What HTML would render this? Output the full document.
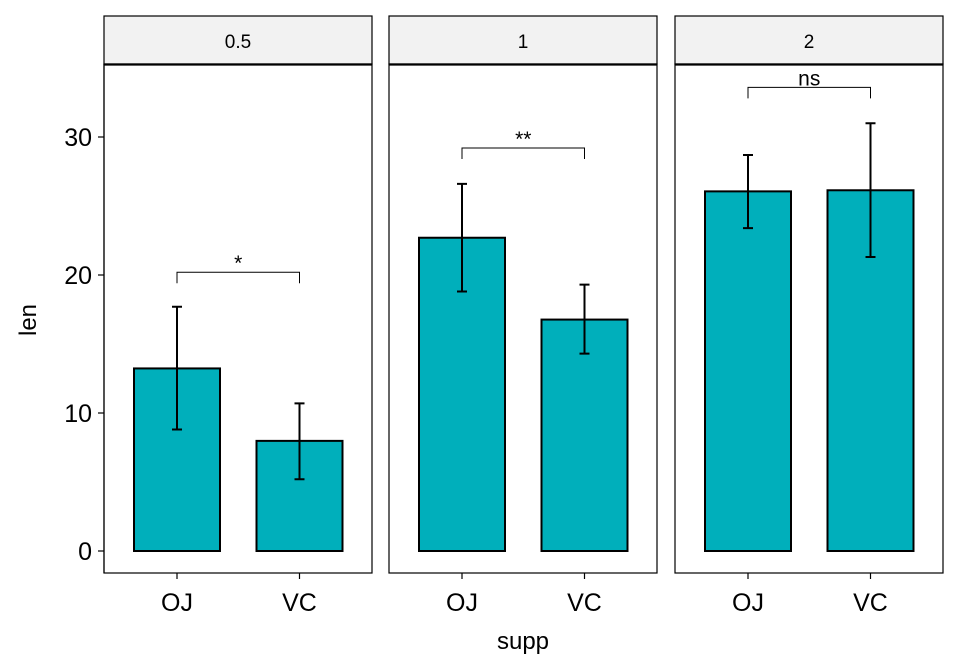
<!DOCTYPE html>
<html><head><meta charset="utf-8"><style>body{margin:0;background:#fff}svg{display:block;font-family:"Liberation Sans",Arial,sans-serif}</style></head>
<body>
<svg id="chart" width="960" height="672"></svg>
<script>
const panels = ["0.5","1","2"];
const categories = ["OJ","VC"];
const means = [[13.23,7.98],[22.70,16.77],[26.06,26.14]];
const errLow = [[8.8,5.2],[18.8,14.3],[23.4,21.3]];
const errHigh = [[17.7,10.7],[26.6,19.3],[28.7,31.0]];
const sigLabels = ["*","**","ns"];
const sigY = [20.2,29.2,33.6];
const yTicks = [0,10,20,30];

const svg = document.getElementById('chart');
const NS = 'http://www.w3.org/2000/svg';
function mk(tag, attrs, parent){const e=document.createElementNS(NS,tag);for(const k in attrs)e.setAttribute(k,attrs[k]);(parent||svg).appendChild(e);return e;}
const y = v => 551 - v*13.8;
const panelX = [104,389,675], panelW = 268, panelTop = 64, panelBottom = 573;
const catX = i => [73,195.5][i];
const barW = 86;

const yl = mk('line',{x1:104,y1:panelTop,x2:104,y2:panelBottom,stroke:'#000','stroke-width':1.2});


yTicks.forEach(t=>{
  const tk=mk('line',{x1:98,x2:104,y1:y(t),y2:y(t),stroke:'#000','stroke-width':1.2});
  
  
  const tx=mk('text',{x:92,y:y(t)+9,'text-anchor':'end','font-size':25,fill:'#000'});
  tx.textContent=t;
  
  
});
const yt=mk('text',{x:36,y:320,'text-anchor':'middle','font-size':24,transform:'rotate(-90 36 320)'});
yt.textContent='len';


const xt=mk('text',{x:523,y:649,'text-anchor':'middle','font-size':24});
xt.textContent='supp';



panels.forEach((p,pi)=>{
  const px=panelX[pi];
  const g=mk('g',{});
  
  
  const strip=mk('rect',{x:px,y:16,width:panelW,height:48,fill:'#f2f2f2',stroke:'#000','stroke-width':1.2},g);
  
  
  const st=mk('text',{x:px+panelW/2,y:48,'text-anchor':'middle','font-size':19},g);
  st.textContent=p;
  
  
  const pr=mk('rect',{x:px,y:panelTop,width:panelW,height:panelBottom-panelTop,fill:'none',stroke:'#000','stroke-width':1.2},g);
  
  
  mk('line',{x1:px,x2:px+panelW,y1:panelTop+1,y2:panelTop+1,stroke:'#000','stroke-width':1.2},g);
  categories.forEach((c,ci)=>{
    const cx=px+catX(ci);
    const b=mk('rect',{x:cx-barW/2,y:y(means[pi][ci]),width:barW,height:y(0)-y(means[pi][ci]),fill:'#00AFBB',stroke:'#000','stroke-width':2},g);
    
    
    const e=mk('path',{d:`M${cx-5},${y(errHigh[pi][ci])}H${cx+5}M${cx},${y(errHigh[pi][ci])}V${y(errLow[pi][ci])}M${cx-5},${y(errLow[pi][ci])}H${cx+5}`,stroke:'#000','stroke-width':2,fill:'none'},g);
    
    
    const tk=mk('line',{x1:cx,x2:cx,y1:panelBottom,y2:panelBottom+6,stroke:'#000','stroke-width':1.2},g);
    
    
    const lb=mk('text',{x:cx,y:panelBottom+38,'text-anchor':'middle','font-size':25},g);
    lb.textContent=c;
    
    
  });
  const x1=px+catX(0), x2=px+catX(1), sy=y(sigY[pi]);
  const br=mk('path',{d:`M${x1},${sy+11}V${sy}H${x2}V${sy+11}`,stroke:'#000','stroke-width':1,fill:'none'},g);
  
  
  const sl=mk('text',{x:(x1+x2)/2,y:sy-2,'text-anchor':'middle','font-size':21},g);
  sl.textContent=sigLabels[pi];
  
  
});
</script>
</body></html>
